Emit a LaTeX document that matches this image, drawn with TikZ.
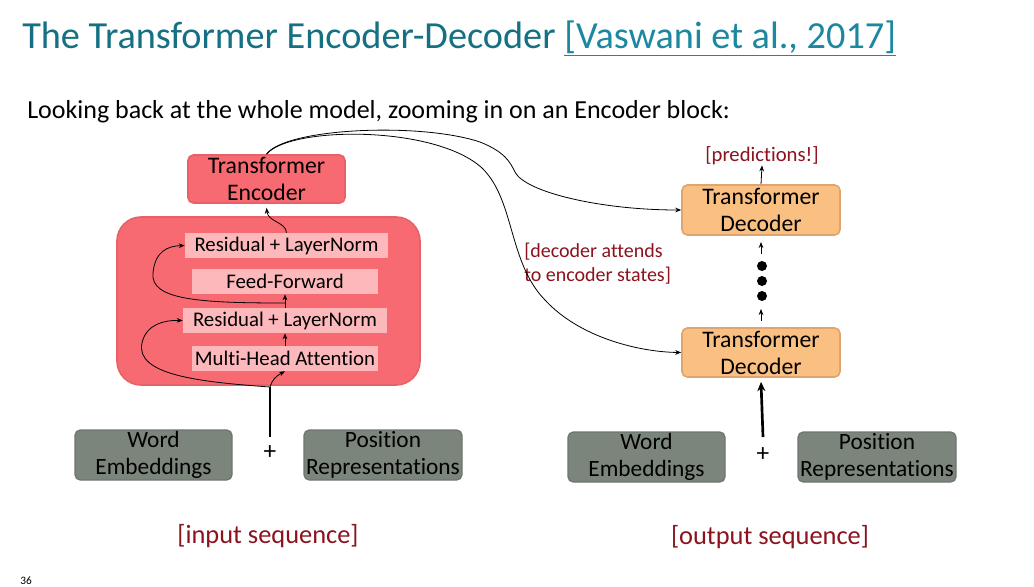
\documentclass[tikz,border=0pt]{standalone}
\usepackage{fontspec}
\setmainfont{Carlito}[Ligatures={NoCommon}]
\usetikzlibrary{arrows.meta}
\definecolor{titlec}{RGB}{20,112,130}
\definecolor{linkc}{RGB}{28,136,160}
\definecolor{encred}{RGB}{248,106,114}
\definecolor{encredb}{RGB}{232,96,104}
\definecolor{lightp}{RGB}{253,184,188}
\definecolor{decor}{RGB}{250,192,130}
\definecolor{decorb}{RGB}{222,165,110}
\definecolor{embg}{RGB}{124,133,124}
\definecolor{embgb}{RGB}{110,118,110}
\definecolor{darkred}{RGB}{140,18,30}
\begin{document}
\begin{tikzpicture}[x=0.75pt,y=-0.75pt,
  redbox/.style={draw=encredb,line width=1.2pt,fill=encred,rounded corners=4pt,align=center,inner sep=0pt,
    font=\fontsize{17.8}{20}\selectfont},
  bigblock/.style={draw=encredb,line width=1.2pt,fill=encred,rounded corners=18pt,inner sep=0pt},
  innerbox/.style={fill=lightp,inner sep=0pt,font=\fontsize{15.6}{17}\selectfont},
  decbox/.style={draw=decorb,line width=1.2pt,fill=decor,rounded corners=4pt,align=center,inner sep=0pt,
    font=\fontsize{17.8}{20.3}\selectfont},
  embbox/.style={draw=embgb,line width=1pt,fill=embg,rounded corners=4pt,align=center,inner sep=0pt,
    font=\fontsize{17.5}{20}\selectfont},
  arr/.style={-{Stealth[length=4.5pt,width=3.5pt]},line width=0.6pt},
  thick arr/.style={line width=2pt},
  dot/.style={circle,fill=black,minimum size=7.5pt,inner sep=0pt},
  redtext/.style={text=darkred,inner sep=0pt}
]
\useasboundingbox (0,0) rectangle (1034,586);
\fill[white] (0,0) rectangle (1034,586);

% title and subtitle
\node[anchor=base west,inner sep=0pt,text=titlec,font=\fontsize{28.7}{34}\selectfont] (title) at (22,48)
  {The Transformer Encoder-Decoder \textcolor{linkc}{\underline{[Vaswani et al., 2017]}}};
\node[anchor=base west,inner sep=0pt,font=\fontsize{19.5}{22}\selectfont] (sub) at (27,118)
  {Looking back at the whole model, zooming in on an Encoder block:};

% encoder
\node[bigblock,minimum width=227.25pt,minimum height=126pt] (blk) at (268.5,301) {};
\node[redbox,minimum width=117.75pt,minimum height=36pt] (enc) at (266.5,179) {Transformer\\Encoder};
\node[innerbox,minimum width=152.25pt,minimum height=18.75pt] (res1) at (286.5,245.5) {Residual + LayerNorm};
\node[innerbox,minimum width=139.5pt,minimum height=18.75pt] (ff) at (285,281.5) {Feed-Forward};
\node[innerbox,minimum width=153pt,minimum height=18.75pt] (res2) at (285,320.5) {Residual + LayerNorm};
\node[innerbox,minimum width=139.5pt,minimum height=18.75pt] (mha) at (285,358.5) {Multi-Head Attention};

% decoders
\node[decbox,minimum width=118.5pt,minimum height=37.5pt] (dec1) at (761,210) {Transformer\\Decoder};
\node[decbox,minimum width=118.5pt,minimum height=36.75pt] (dec2) at (761,352.5) {Transformer\\Decoder};
\node[dot] (d1) at (762,266) {};
\node[dot] (d2) at (762,281) {};
\node[dot] (d3) at (762,296) {};
\node[redtext,font=\fontsize{15.5}{18}\selectfont] (pred) at (762,156) {[predictions!]};

% embeddings
\node[embbox,minimum width=117.75pt,minimum height=37.5pt] (weL) at (153.5,455) {Word\\Embeddings};
\node[embbox,minimum width=118.5pt,minimum height=37.5pt] (prL) at (383,455) {Position\\Representations};
\node[inner sep=0pt,font=\fontsize{19}{22}\selectfont] (plusL) at (270,453) {+};
\node[embbox,minimum width=117.75pt,minimum height=37.5pt] (weR) at (646.5,457) {Word\\Embeddings};
\node[embbox,minimum width=118.5pt,minimum height=37.5pt] (prR) at (877,457) {Position\\Representations};
\node[inner sep=0pt,font=\fontsize{19}{22}\selectfont] (plusR) at (763,455) {+};

% labels
\node[redtext,font=\fontsize{19.8}{23}\selectfont] (inseq) at (268,536) {[input sequence]};
\node[redtext,font=\fontsize{19.8}{23}\selectfont] (outseq) at (770,537) {[output sequence]};
\node[redtext,anchor=north west,align=left,font=\fontsize{15}{18}\selectfont] (attn) at (524,243)
  {[decoder attends\\to encoder states]};
\node[anchor=base west,inner sep=0pt,font=\fontsize{8.5}{10}\selectfont] (pg) at (20,584) {36};

% encoder internal connectors
\coordinate (lbase) at (270,437);
\coordinate (lsplit) at (270,387);
\coordinate (ffsplit) at (285,303);
\draw[thick arr] (lbase) -- (lsplit);
\draw[arr] (lsplit) .. controls (272,380) and (276,376) .. (mha.south);
\draw[arr] (lsplit) .. controls (200,382) and (135,375) .. (142,343) .. controls (146,324) and (165,320) .. (res2.west);
\draw[arr] (mha.north) -- (res2.south);
\draw[arr] (res2.north) -- (ff.south);
\draw[arr] (ffsplit) .. controls (200,303) and (150,300) .. (153,273) .. controls (155,251) and (168,246) .. (res1.west);
\draw[arr] (res1.north) .. controls (286,222) and (268,222) .. ([yshift=-3pt]enc.south);

% encoder to decoders
\draw[arr] (enc.north) .. controls (285,128) and (420,122) .. (480,142)
  .. controls (505,152) and (510,162) .. (515,172)
  .. controls (525,192) and (600,210) .. (dec1.west);
\draw[arr] (enc.north) .. controls (290,126) and (435,125) .. (482,168)
  .. controls (515,200) and (508,262) .. (545,300)
  .. controls (580,338) and (640,352) .. (dec2.west);

% decoder stack connectors
\coordinate (rbase) at (763,437);
\draw[thick arr,-{Stealth[length=7pt,width=6pt]}] (rbase) -- ([yshift=-3pt]dec2.south);
\draw[arr] (dec1.north) -- (pred.south);
\coordinate (a1s) at (761,254);
\coordinate (a1e) at (761,242);
\draw[arr] (a1s) -- (a1e);
\coordinate (a2s) at (761,321);
\coordinate (a2e) at (761,309);
\draw[arr] (a2s) -- (a2e);
\end{tikzpicture}
\end{document}
